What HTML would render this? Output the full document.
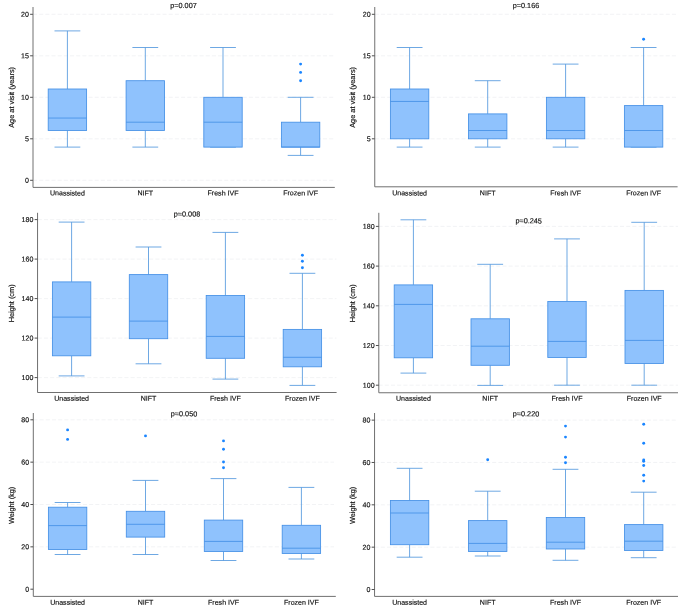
<!DOCTYPE html>
<html lang="en"><head><meta charset="utf-8"><title>Box plots</title>
<style>html,body{margin:0;padding:0;background:#fff}svg{display:block}text{text-rendering:geometricPrecision;font-family:"Liberation Sans",Arial,sans-serif;font-size:7.05px;fill:#111;stroke:#111;stroke-width:.16}.ax{stroke:#707070;stroke-width:1;fill:none}.tk{stroke:#222;stroke-width:.8}.g{stroke:#eff0f2;stroke-width:.8;fill:none}.w{stroke:#5498de;stroke-width:0.85;fill:none}.b{fill:#8fc2fd;stroke:#4590e6;stroke-width:0.85}.m{stroke:#4590e6;stroke-width:0.85}.o{fill:#1a85ff}.t{font-size:7.25px}.yl{font-size:7.35px}</style></head><body>
<svg width="685" height="616" viewBox="0 0 685 616">
<rect width="685" height="616" fill="#fff"/>
<g>
<line class="g" stroke-dasharray="4.05 2.119" x1="33" x2="333.2" y1="14.3" y2="14.3"/>
<line class="g" stroke-dasharray="4.05 2.119" x1="33" x2="333.2" y1="55.8" y2="55.8"/>
<line class="g" stroke-dasharray="4.05 2.119" x1="33" x2="333.2" y1="97.3" y2="97.3"/>
<line class="g" stroke-dasharray="4.05 2.119" x1="33" x2="333.2" y1="138.8" y2="138.8"/>
<line class="g" stroke-dasharray="4.05 2.119" x1="33" x2="333.2" y1="180.3" y2="180.3"/>
<path class="w" d="M67.4 30.9V89M67.4 130.5V147.1M54.5 30.9H80.3M54.5 147.1H80.3"/>
<rect class="b" x="48.2" y="89" width="38.4" height="41.5"/>
<line class="m" x1="48.2" x2="86.6" y1="118.05" y2="118.05"/>
<path class="w" d="M145.3 47.5V80.7M145.3 130.5V147.1M132.4 47.5H158.2M132.4 147.1H158.2"/>
<rect class="b" x="126.1" y="80.7" width="38.4" height="49.8"/>
<line class="m" x1="126.1" x2="164.5" y1="122.2" y2="122.2"/>
<path class="w" d="M223 47.5V97.3M223 147.1V147.1M210.1 47.5H235.9M210.1 147.1H235.9"/>
<rect class="b" x="203.8" y="97.3" width="38.4" height="49.8"/>
<line class="m" x1="203.8" x2="242.2" y1="122.2" y2="122.2"/>
<path class="w" d="M300.6 97.3V122.2M300.6 147.1V155.4M287.7 97.3H313.5M287.7 155.4H313.5"/>
<rect class="b" x="281.4" y="122.2" width="38.4" height="24.9"/>
<line class="m" x1="281.4" x2="319.8" y1="147.1" y2="147.1"/>
<circle class="o" cx="300.6" cy="80.7" r="1.45"/>
<circle class="o" cx="300.6" cy="72.4" r="1.45"/>
<circle class="o" cx="300.6" cy="64.1" r="1.45"/>
<path class="ax" d="M33 7V187.4H334.8"/>
<line class="tk" x1="30.1" x2="32.8" y1="14.3" y2="14.3"/>
<text transform="translate(28.8 16.8) rotate(.25)" text-anchor="end">20</text>
<line class="tk" x1="30.1" x2="32.8" y1="55.8" y2="55.8"/>
<text transform="translate(28.8 58.3) rotate(.25)" text-anchor="end">15</text>
<line class="tk" x1="30.1" x2="32.8" y1="97.3" y2="97.3"/>
<text transform="translate(28.8 99.8) rotate(.25)" text-anchor="end">10</text>
<line class="tk" x1="30.1" x2="32.8" y1="138.8" y2="138.8"/>
<text transform="translate(28.8 141.3) rotate(.25)" text-anchor="end">5</text>
<line class="tk" x1="30.1" x2="32.8" y1="180.3" y2="180.3"/>
<text transform="translate(28.8 182.8) rotate(.25)" text-anchor="end">0</text>
<text transform="translate(67.4 195.4) rotate(.25)" text-anchor="middle">Unassisted</text>
<text transform="translate(145.3 195.4) rotate(.25)" text-anchor="middle">NIFT</text>
<text transform="translate(223 195.4) rotate(.25)" text-anchor="middle">Fresh IVF</text>
<text transform="translate(300.6 195.4) rotate(.25)" text-anchor="middle">Frozen IVF</text>
<text transform="translate(183.5 8.05) rotate(.25)" text-anchor="middle" class="t">p=0.007</text>
<text transform="translate(13.5 97.4) rotate(-90)" text-anchor="middle" class="yl">Age at visit (years)</text>
</g>
<g>
<line class="g" stroke-dasharray="4.05 2.14" x1="374.8" x2="676.2" y1="14.3" y2="14.3"/>
<line class="g" stroke-dasharray="4.05 2.14" x1="374.8" x2="676.2" y1="55.8" y2="55.8"/>
<line class="g" stroke-dasharray="4.05 2.14" x1="374.8" x2="676.2" y1="97.3" y2="97.3"/>
<line class="g" stroke-dasharray="4.05 2.14" x1="374.8" x2="676.2" y1="138.8" y2="138.8"/>
<path class="w" d="M409.6 47.5V89M409.6 138.8V147.1M396.7 47.5H422.5M396.7 147.1H422.5"/>
<rect class="b" x="390.4" y="89" width="38.4" height="49.8"/>
<line class="m" x1="390.4" x2="428.8" y1="101.45" y2="101.45"/>
<path class="w" d="M487.7 80.7V113.9M487.7 138.8V147.1M474.8 80.7H500.6M474.8 147.1H500.6"/>
<rect class="b" x="468.5" y="113.9" width="38.4" height="24.9"/>
<line class="m" x1="468.5" x2="506.9" y1="130.5" y2="130.5"/>
<path class="w" d="M565.6 64.1V97.3M565.6 138.8V147.1M552.7 64.1H578.5M552.7 147.1H578.5"/>
<rect class="b" x="546.4" y="97.3" width="38.4" height="41.5"/>
<line class="m" x1="546.4" x2="584.8" y1="130.5" y2="130.5"/>
<path class="w" d="M643.6 47.5V105.6M643.6 147.1V147.1M630.7 47.5H656.5M630.7 147.1H656.5"/>
<rect class="b" x="624.4" y="105.6" width="38.4" height="41.5"/>
<line class="m" x1="624.4" x2="662.8" y1="130.5" y2="130.5"/>
<circle class="o" cx="643.6" cy="39.2" r="1.45"/>
<path class="ax" d="M374.75 7V186.8H677.6"/>
<line class="tk" x1="371.85" x2="374.55" y1="14.3" y2="14.3"/>
<text transform="translate(370.55 16.8) rotate(.25)" text-anchor="end">20</text>
<line class="tk" x1="371.85" x2="374.55" y1="55.8" y2="55.8"/>
<text transform="translate(370.55 58.3) rotate(.25)" text-anchor="end">15</text>
<line class="tk" x1="371.85" x2="374.55" y1="97.3" y2="97.3"/>
<text transform="translate(370.55 99.8) rotate(.25)" text-anchor="end">10</text>
<line class="tk" x1="371.85" x2="374.55" y1="138.8" y2="138.8"/>
<text transform="translate(370.55 141.3) rotate(.25)" text-anchor="end">5</text>
<text transform="translate(409.6 195.4) rotate(.25)" text-anchor="middle">Unassisted</text>
<text transform="translate(487.7 195.4) rotate(.25)" text-anchor="middle">NIFT</text>
<text transform="translate(565.6 195.4) rotate(.25)" text-anchor="middle">Fresh IVF</text>
<text transform="translate(643.6 195.4) rotate(.25)" text-anchor="middle">Frozen IVF</text>
<text transform="translate(526 8.05) rotate(.25)" text-anchor="middle" class="t">p=0.166</text>
<text transform="translate(355.2 97.4) rotate(-90)" text-anchor="middle" class="yl">Age at visit (years)</text>
</g>
<g>
<line class="g" stroke-dasharray="4.05 2.14" x1="37.75" x2="336.4" y1="219.6" y2="219.6"/>
<line class="g" stroke-dasharray="4.05 2.14" x1="37.75" x2="336.4" y1="259.1" y2="259.1"/>
<line class="g" stroke-dasharray="4.05 2.14" x1="37.75" x2="336.4" y1="298.6" y2="298.6"/>
<line class="g" stroke-dasharray="4.05 2.14" x1="37.75" x2="336.4" y1="338.1" y2="338.1"/>
<line class="g" stroke-dasharray="4.05 2.14" x1="37.75" x2="336.4" y1="377.6" y2="377.6"/>
<path class="w" d="M71.6 222.1V281.9M71.6 355.8V375.9M58.7 222.1H84.5M58.7 375.9H84.5"/>
<rect class="b" x="52.4" y="281.9" width="38.4" height="73.9"/>
<line class="m" x1="52.4" x2="90.8" y1="317.1" y2="317.1"/>
<path class="w" d="M148.5 247V274.6M148.5 338.7V363.8M135.6 247H161.4M135.6 363.8H161.4"/>
<rect class="b" x="129.3" y="274.6" width="38.4" height="64.1"/>
<line class="m" x1="129.3" x2="167.7" y1="321.1" y2="321.1"/>
<path class="w" d="M225.4 232.4V295.5M225.4 358.3V379.1M212.5 232.4H238.3M212.5 379.1H238.3"/>
<rect class="b" x="206.2" y="295.5" width="38.4" height="62.8"/>
<line class="m" x1="206.2" x2="244.6" y1="336.4" y2="336.4"/>
<path class="w" d="M302.4 273.3V329.4M302.4 366.8V385.4M289.5 273.3H315.3M289.5 385.4H315.3"/>
<rect class="b" x="283.2" y="329.4" width="38.4" height="37.4"/>
<line class="m" x1="283.2" x2="321.6" y1="357.3" y2="357.3"/>
<circle class="o" cx="302.4" cy="255.3" r="1.45"/>
<circle class="o" cx="302.4" cy="261.3" r="1.45"/>
<circle class="o" cx="302.4" cy="267.8" r="1.45"/>
<path class="ax" d="M37.55 212.8V392.5H336.6"/>
<line class="tk" x1="34.65" x2="37.35" y1="219.6" y2="219.6"/>
<text transform="translate(33.35 222.1) rotate(.25)" text-anchor="end">180</text>
<line class="tk" x1="34.65" x2="37.35" y1="259.1" y2="259.1"/>
<text transform="translate(33.35 261.6) rotate(.25)" text-anchor="end">160</text>
<line class="tk" x1="34.65" x2="37.35" y1="298.6" y2="298.6"/>
<text transform="translate(33.35 301.1) rotate(.25)" text-anchor="end">140</text>
<line class="tk" x1="34.65" x2="37.35" y1="338.1" y2="338.1"/>
<text transform="translate(33.35 340.6) rotate(.25)" text-anchor="end">120</text>
<line class="tk" x1="34.65" x2="37.35" y1="377.6" y2="377.6"/>
<text transform="translate(33.35 380.1) rotate(.25)" text-anchor="end">100</text>
<text transform="translate(71.6 400.8) rotate(.25)" text-anchor="middle">Unassisted</text>
<text transform="translate(148.5 400.8) rotate(.25)" text-anchor="middle">NIFT</text>
<text transform="translate(225.4 400.8) rotate(.25)" text-anchor="middle">Fresh IVF</text>
<text transform="translate(302.4 400.8) rotate(.25)" text-anchor="middle">Frozen IVF</text>
<text transform="translate(187 216.55) rotate(.25)" text-anchor="middle" class="t">p=0.008</text>
<text transform="translate(13.5 303.4) rotate(-90)" text-anchor="middle" class="yl">Height (cm)</text>
</g>
<g>
<line class="g" stroke-dasharray="4.05 2.14" x1="378.6" x2="678" y1="226.4" y2="226.4"/>
<line class="g" stroke-dasharray="4.05 2.14" x1="378.6" x2="678" y1="266.1" y2="266.1"/>
<line class="g" stroke-dasharray="4.05 2.14" x1="378.6" x2="678" y1="305.8" y2="305.8"/>
<line class="g" stroke-dasharray="4.05 2.14" x1="378.6" x2="678" y1="345.5" y2="345.5"/>
<line class="g" stroke-dasharray="4.05 2.14" x1="378.6" x2="678" y1="385.2" y2="385.2"/>
<path class="w" d="M413.4 219.8V284.9M413.4 357.8V373.1M400.5 219.8H426.3M400.5 373.1H426.3"/>
<rect class="b" x="394.2" y="284.9" width="38.4" height="72.9"/>
<line class="m" x1="394.2" x2="432.6" y1="304.4" y2="304.4"/>
<path class="w" d="M490.2 264.3V318.8M490.2 365.3V385.4M477.3 264.3H503.1M477.3 385.4H503.1"/>
<rect class="b" x="471" y="318.8" width="38.4" height="46.5"/>
<line class="m" x1="471" x2="509.4" y1="346.2" y2="346.2"/>
<path class="w" d="M567 238.9V301.5M567 357.5V385.2M554.1 238.9H579.9M554.1 385.2H579.9"/>
<rect class="b" x="547.8" y="301.5" width="38.4" height="56"/>
<line class="m" x1="547.8" x2="586.2" y1="341.4" y2="341.4"/>
<path class="w" d="M644.2 222.3V290.4M644.2 363.5V385.2M631.3 222.3H657.1M631.3 385.2H657.1"/>
<rect class="b" x="625" y="290.4" width="38.4" height="73.1"/>
<line class="m" x1="625" x2="663.4" y1="340.4" y2="340.4"/>
<path class="ax" d="M378.8 212.8V392.75H678"/>
<line class="tk" x1="375.9" x2="378.6" y1="226.4" y2="226.4"/>
<text transform="translate(374.6 228.9) rotate(.25)" text-anchor="end">180</text>
<line class="tk" x1="375.9" x2="378.6" y1="266.1" y2="266.1"/>
<text transform="translate(374.6 268.6) rotate(.25)" text-anchor="end">160</text>
<line class="tk" x1="375.9" x2="378.6" y1="305.8" y2="305.8"/>
<text transform="translate(374.6 308.3) rotate(.25)" text-anchor="end">140</text>
<line class="tk" x1="375.9" x2="378.6" y1="345.5" y2="345.5"/>
<text transform="translate(374.6 348) rotate(.25)" text-anchor="end">120</text>
<line class="tk" x1="375.9" x2="378.6" y1="385.2" y2="385.2"/>
<text transform="translate(374.6 387.7) rotate(.25)" text-anchor="end">100</text>
<text transform="translate(413.4 400.8) rotate(.25)" text-anchor="middle">Unassisted</text>
<text transform="translate(490.2 400.8) rotate(.25)" text-anchor="middle">NIFT</text>
<text transform="translate(567 400.8) rotate(.25)" text-anchor="middle">Fresh IVF</text>
<text transform="translate(644.2 400.8) rotate(.25)" text-anchor="middle">Frozen IVF</text>
<text transform="translate(528.6 223.35) rotate(.25)" text-anchor="middle" class="t">p=0.245</text>
<text transform="translate(355.2 303.4) rotate(-90)" text-anchor="middle" class="yl">Height (cm)</text>
</g>
<g>
<line class="g" stroke-dasharray="4.05 2.14" x1="33.4" x2="334" y1="419.8" y2="419.8"/>
<line class="g" stroke-dasharray="4.05 2.14" x1="33.4" x2="334" y1="462.15" y2="462.15"/>
<line class="g" stroke-dasharray="4.05 2.14" x1="33.4" x2="334" y1="504.5" y2="504.5"/>
<line class="g" stroke-dasharray="4.05 2.14" x1="33.4" x2="334" y1="546.85" y2="546.85"/>
<path class="w" d="M67.6 502.5V507.2M67.6 549.5V554.5M54.7 502.5H80.5M54.7 554.5H80.5"/>
<rect class="b" x="48.4" y="507.2" width="38.4" height="42.3"/>
<line class="m" x1="48.4" x2="86.8" y1="525.6" y2="525.6"/>
<circle class="o" cx="67.6" cy="429.9" r="1.45"/>
<circle class="o" cx="67.6" cy="439.4" r="1.45"/>
<path class="w" d="M145.5 480.4V511.3M145.5 537.1V554.5M132.6 480.4H158.4M132.6 554.5H158.4"/>
<rect class="b" x="126.3" y="511.3" width="38.4" height="25.8"/>
<line class="m" x1="126.3" x2="164.7" y1="524.3" y2="524.3"/>
<circle class="o" cx="145.5" cy="435.9" r="1.45"/>
<path class="w" d="M223.5 478.6V520.1M223.5 551.5V560.5M210.6 478.6H236.4M210.6 560.5H236.4"/>
<rect class="b" x="204.3" y="520.1" width="38.4" height="31.4"/>
<line class="m" x1="204.3" x2="242.7" y1="541.4" y2="541.4"/>
<circle class="o" cx="223.5" cy="440.9" r="1.45"/>
<circle class="o" cx="223.5" cy="449.2" r="1.45"/>
<circle class="o" cx="223.5" cy="462" r="1.45"/>
<circle class="o" cx="223.5" cy="467.8" r="1.45"/>
<path class="w" d="M301.4 487.4V525.3M301.4 553.5V559M288.5 487.4H314.3M288.5 559H314.3"/>
<rect class="b" x="282.2" y="525.3" width="38.4" height="28.2"/>
<line class="m" x1="282.2" x2="320.6" y1="548.2" y2="548.2"/>
<path class="ax" d="M33.3 413V596.4H335.8"/>
<line class="tk" x1="30.4" x2="33.1" y1="419.8" y2="419.8"/>
<text transform="translate(29.1 422.3) rotate(.25)" text-anchor="end">80</text>
<line class="tk" x1="30.4" x2="33.1" y1="462.15" y2="462.15"/>
<text transform="translate(29.1 464.65) rotate(.25)" text-anchor="end">60</text>
<line class="tk" x1="30.4" x2="33.1" y1="504.5" y2="504.5"/>
<text transform="translate(29.1 507) rotate(.25)" text-anchor="end">40</text>
<line class="tk" x1="30.4" x2="33.1" y1="546.85" y2="546.85"/>
<text transform="translate(29.1 549.35) rotate(.25)" text-anchor="end">20</text>
<line class="tk" x1="30.4" x2="33.1" y1="589.2" y2="589.2"/>
<text transform="translate(29.1 591.7) rotate(.25)" text-anchor="end">0</text>
<text transform="translate(67.6 604.8) rotate(.25)" text-anchor="middle">Unassisted</text>
<text transform="translate(145.5 604.8) rotate(.25)" text-anchor="middle">NIFT</text>
<text transform="translate(223.5 604.8) rotate(.25)" text-anchor="middle">Fresh IVF</text>
<text transform="translate(301.4 604.8) rotate(.25)" text-anchor="middle">Frozen IVF</text>
<text transform="translate(184 416.35) rotate(.25)" text-anchor="middle" class="t">p=0.050</text>
<text transform="translate(13.5 505.4) rotate(-90)" text-anchor="middle" class="yl">Weight (kg)</text>
</g>
<g>
<line class="g" stroke-dasharray="4.05 2.14" x1="374.6" x2="676.5" y1="420.14" y2="420.14"/>
<line class="g" stroke-dasharray="4.05 2.14" x1="374.6" x2="676.5" y1="462.48" y2="462.48"/>
<line class="g" stroke-dasharray="4.05 2.14" x1="374.6" x2="676.5" y1="504.82" y2="504.82"/>
<line class="g" stroke-dasharray="4.05 2.14" x1="374.6" x2="676.5" y1="547.16" y2="547.16"/>
<path class="w" d="M409.6 468.3V500.5M409.6 544.7V557.2M396.7 468.3H422.5M396.7 557.2H422.5"/>
<rect class="b" x="390.4" y="500.5" width="38.4" height="44.2"/>
<line class="m" x1="390.4" x2="428.8" y1="513" y2="513"/>
<path class="w" d="M487.7 491.2V520.6M487.7 551.5V556M474.8 491.2H500.6M474.8 556H500.6"/>
<rect class="b" x="468.5" y="520.6" width="38.4" height="30.9"/>
<line class="m" x1="468.5" x2="506.9" y1="543.4" y2="543.4"/>
<circle class="o" cx="487.7" cy="459.8" r="1.45"/>
<path class="w" d="M565.5 469.3V517.5M565.5 549V560.3M552.6 469.3H578.4M552.6 560.3H578.4"/>
<rect class="b" x="546.3" y="517.5" width="38.4" height="31.5"/>
<line class="m" x1="546.3" x2="584.7" y1="542.2" y2="542.2"/>
<circle class="o" cx="565.5" cy="426.1" r="1.45"/>
<circle class="o" cx="565.5" cy="437.1" r="1.45"/>
<circle class="o" cx="565.5" cy="457.2" r="1.45"/>
<circle class="o" cx="565.5" cy="462.8" r="1.45"/>
<path class="w" d="M643.7 492.2V524.6M643.7 550.5V557.7M630.8 492.2H656.6M630.8 557.7H656.6"/>
<rect class="b" x="624.5" y="524.6" width="38.4" height="25.9"/>
<line class="m" x1="624.5" x2="662.9" y1="541.2" y2="541.2"/>
<circle class="o" cx="643.7" cy="424.3" r="1.45"/>
<circle class="o" cx="643.7" cy="443.2" r="1.45"/>
<circle class="o" cx="643.7" cy="460" r="1.45"/>
<circle class="o" cx="643.7" cy="461.2" r="1.45"/>
<circle class="o" cx="643.7" cy="465.5" r="1.45"/>
<circle class="o" cx="643.7" cy="475.3" r="1.45"/>
<circle class="o" cx="643.7" cy="481.1" r="1.45"/>
<path class="ax" d="M374.55 413V596.4H678"/>
<line class="tk" x1="371.65" x2="374.35" y1="420.14" y2="420.14"/>
<text transform="translate(370.35 422.64) rotate(.25)" text-anchor="end">80</text>
<line class="tk" x1="371.65" x2="374.35" y1="462.48" y2="462.48"/>
<text transform="translate(370.35 464.98) rotate(.25)" text-anchor="end">60</text>
<line class="tk" x1="371.65" x2="374.35" y1="504.82" y2="504.82"/>
<text transform="translate(370.35 507.32) rotate(.25)" text-anchor="end">40</text>
<line class="tk" x1="371.65" x2="374.35" y1="547.16" y2="547.16"/>
<text transform="translate(370.35 549.66) rotate(.25)" text-anchor="end">20</text>
<line class="tk" x1="371.65" x2="374.35" y1="589.5" y2="589.5"/>
<text transform="translate(370.35 592) rotate(.25)" text-anchor="end">0</text>
<text transform="translate(409.6 604.8) rotate(.25)" text-anchor="middle">Unassisted</text>
<text transform="translate(487.7 604.8) rotate(.25)" text-anchor="middle">NIFT</text>
<text transform="translate(565.5 604.8) rotate(.25)" text-anchor="middle">Fresh IVF</text>
<text transform="translate(643.7 604.8) rotate(.25)" text-anchor="middle">Frozen IVF</text>
<text transform="translate(526 416.35) rotate(.25)" text-anchor="middle" class="t">p=0.220</text>
<text transform="translate(355.2 505.4) rotate(-90)" text-anchor="middle" class="yl">Weight (kg)</text>
</g>
</svg></body></html>
